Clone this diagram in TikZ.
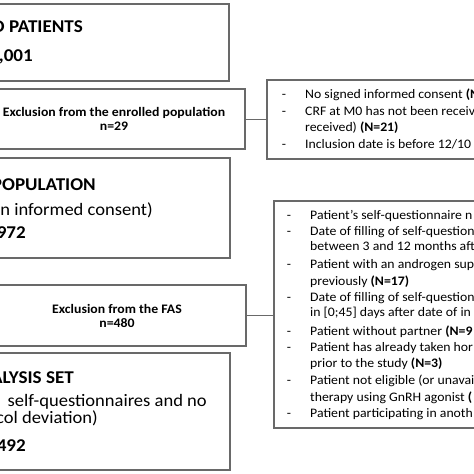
\documentclass[tikz,border=0pt]{standalone}
\usepackage{fontspec}
\setmainfont{Carlito}[FakeStretch=1.06]
\definecolor{framegray}{RGB}{105,105,105}
\tikzset{
  frame/.style={draw=framegray, line width=1.5pt, inner sep=0pt, outer sep=0pt},
  link/.style={draw=framegray, line width=1pt},
  title text/.style={font=\fontsize{18}{21}\selectfont\bfseries, anchor=base east, inner sep=0pt},
  plain text/.style={font=\fontsize{17.5}{21}\selectfont, anchor=base east, inner sep=0pt},
  excl text/.style={font=\fontsize{13}{14}\selectfont\bfseries, align=center, inner sep=0pt},
  item/.style={font=\fontsize{13}{15}\selectfont, anchor=base west, inner sep=0pt},
  item dash/.style={font=\fontsize{13}{15}\selectfont, anchor=base, inner sep=0pt},
}

\begin{document}
\begin{tikzpicture}[x=1pt, y=-1pt]
  \useasboundingbox (0,0) rectangle (474,474);
  \clip (0,0) rectangle (474,474);

  % Boxes on the left
  \node[frame, minimum width=249pt, minimum height=77pt] (enrolled) at (104.5,42.5) {};
  \node[frame, minimum width=262pt, minimum height=60pt] (exclA) at (114,119) {};
  \node[frame, minimum width=250pt, minimum height=100pt] (population) at (105,208) {};
  \node[frame, minimum width=258pt, minimum height=61pt] (exclB) at (117,315.5) {};
  \node[frame, minimum width=250pt, minimum height=117pt] (fas) at (105,411.5) {};

  % Boxes on the right
  \node[frame, minimum width=263pt, minimum height=79pt] (critA) at (398.5,119.5) {};
  \node[frame, minimum width=256pt, minimum height=227pt] (critB) at (402,314.5) {};

  % Connectors
  \draw[link] (exclA.east) -- (exclA.east -| critA.west);
  \draw[link] (exclB.east) -- (exclB.east -| critB.west);

  % Texts of the left boxes
  \node[title text] (enrolledA) at (83,32.5) {D PATIENTS};
  \node[title text] (enrolledB) at (33,61) {,001};
  \node[title text] (popA) at (96,190.5) {POPULATION};
  \node[plain text] (popB) at (153,215.5) {n informed consent)};
  \node[title text] (popC) at (26,238) {972};
  \node[title text] (fasA) at (74,383) {ALYSIS SET};
  \node[plain text] (fasB) at (207,406) {self-questionnaires and no};
  \node[plain text] (fasC) at (98,423) {col deviation)};
  \node[title text] (fasD) at (26,451) {492};

  % Exclusions
  \node[excl text] (exclAtext) at (exclA.center) {Exclusion from the enrolled population\\n=29};
  \node[excl text] (exclBtext) at (exclB.center) {Exclusion from the FAS\\n=480};

  % Criteria, first list
  \foreach \y in {98,115,148}
    \node[item dash] (dashA-\y) at (284,\y) {-};
  \node[item] (itA1) at (305,98) {No signed informed consent \textbf{(N}};
  \node[item] (itA2) at (305,115) {CRF at M0 has not been receiv};
  \node[item] (itA3) at (305,131) {received) \textbf{(N=21)}};
  \node[item] (itA4) at (305,148) {Inclusion date is before 12/10};

  % Criteria, second list
  \foreach \y in {219,235,268,301,335,351,384,417}
    \node[item dash] (dashB-\y) at (289,\y) {-};
  \node[item] (itB1) at (310,219) {Patient's self-questionnaire n};
  \node[item] (itB2) at (310,235) {Date of filling of self-question};
  \node[item] (itB3) at (310,250.5) {between 3 and 12 months aft};
  \node[item] (itB4) at (310,268) {Patient with an androgen sup};
  \node[item] (itB5) at (310,285) {previously \textbf{(N=17)}};
  \node[item] (itB6) at (310,301) {Date of filling of self-question};
  \node[item] (itB7) at (310,316) {in [0;45] days after date of in};
  \node[item] (itB8) at (310,335) {Patient without partner \textbf{(N=9}};
  \node[item] (itB9) at (310,351) {Patient has already taken hor};
  \node[item] (itB10) at (310,367) {prior to the study \textbf{(N=3)}};
  \node[item] (itB11) at (310,384) {Patient not eligible (or unavai};
  \node[item] (itB12) at (310,401) {therapy using GnRH agonist \textbf{(}};
  \node[item] (itB13) at (310,417) {Patient participating in anoth};
\end{tikzpicture}
\end{document}
